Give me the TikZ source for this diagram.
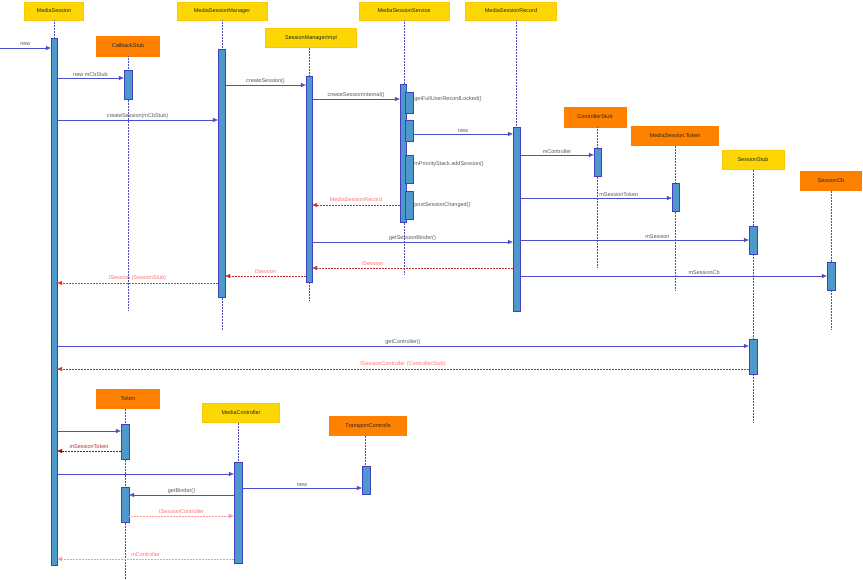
\documentclass[tikz,border=0pt]{standalone}
\usepackage{fontspec}
\setmainfont{Liberation Sans}
\usetikzlibrary{arrows.meta}
\begin{document}
\begin{tikzpicture}[x=1pt,y=-1pt,
  hdr/.style={fill=yellow!75!orange,draw=yellow!60!orange,inner sep=0pt,font=\fontsize{5.5}{6}\selectfont,text=black!85},
  hdro/.style={hdr,fill=orange!90!red!90!yellow,draw=orange},
  life/.style={draw=blue!40!gray,densely dotted,line width=0.5pt},
  act/.style={fill=blue!40!cyan!55!gray!90,draw=blue!50!gray,line width=0.4pt},
  msg/.style={draw=blue!55!gray!90,line width=0.5pt,-{Triangle[length=5pt,width=4pt]}},
  ret/.style={draw=red!70!black!80,densely dotted,line width=0.5pt,-{Triangle[length=5pt,width=4pt]}},
  lbl/.style={font=\fontsize{5.5}{6}\selectfont,text=black!65,inner sep=1pt},
  rlbl/.style={lbl,text=red!55!white}]
\useasboundingbox (0,0) rectangle (863,579);
% headers
\def\hd#1#2#3#4#5#6{\node[#6,minimum width=#3pt,minimum height=#4pt] (#1) at (#2,#5) {#1};}
\node[hdr,minimum width=59pt,minimum height=18pt] (h1) at (54,11) {MediaSession};
\node[hdro,minimum width=63pt,minimum height=20pt] (h2) at (128,46) {CallbackStub};
\node[hdr,minimum width=90pt,minimum height=18pt] (h3) at (222,11) {MediaSessionManager};
\node[hdr,minimum width=91pt,minimum height=19pt] (h4) at (311,38) {SessionManagerImpl};
\node[hdr,minimum width=90pt,minimum height=18pt] (h5) at (404,11) {MediaSessionService};
\node[hdr,minimum width=91pt,minimum height=18pt] (h6) at (511,11) {MediaSessionRecord};
\node[hdro,minimum width=62pt,minimum height=20pt] (h7) at (595,117) {ControllerStub};
\node[hdro,minimum width=87pt,minimum height=19pt] (h8) at (675,136) {MediaSession.Token};
\node[hdr,minimum width=62pt,minimum height=19pt] (h9) at (753,160) {SessionStub};
\node[hdro,minimum width=61pt,minimum height=19pt] (h10) at (831,181) {SessionCb};
\node[hdro,minimum width=63pt,minimum height=19pt] (h11) at (128,399) {Token};
\node[hdr,minimum width=77pt,minimum height=19pt] (h12) at (241,413) {MediaController};
\node[hdro,minimum width=77pt,minimum height=19pt] (h13) at (368,426) {TransportControlls};
% lifelines
\coordinate (e1) at (54,565); \coordinate (e2) at (128,310); \coordinate (e3) at (222,330);
\coordinate (e4) at (309,300); \coordinate (e5) at (404,275); \coordinate (e6) at (516,311);
\coordinate (e7) at (597,268); \coordinate (e8) at (675,290); \coordinate (e9) at (753,423);
\coordinate (e10) at (831,330); \coordinate (e11) at (125,579); \coordinate (e12) at (238,563);
\coordinate (e13) at (365,494);
\foreach \i/\x in {1/54,2/128,3/222,4/309,5/404,6/516,7/597,8/675,9/753,10/831,11/125,12/238,13/365}
  \draw[life] (h\i.south -| {\x,0}) -- (e\i);
% activations
\node[act,minimum width=6pt,minimum height=527pt,inner sep=0pt] (a1) at (54,301.5) {};
\node[act,minimum width=8pt,minimum height=29pt,inner sep=0pt] (a2) at (128,84.5) {};
\node[act,minimum width=7pt,minimum height=248pt,inner sep=0pt] (a3) at (221.5,173) {};
\node[act,minimum width=6pt,minimum height=206pt,inner sep=0pt] (a4) at (309,179) {};
\node[act,minimum width=6pt,minimum height=138pt,inner sep=0pt] (a5) at (403,153) {};
\foreach \n/\t/\b in {s1/92/113,s2/120/141,s3/155/183,s4/191/219}
  \node[act,minimum width=8pt,minimum height={(\b-\t)*1pt},inner sep=0pt] (\n) at (409,{(\t+\b)/2}) {};
\node[act,minimum width=7pt,minimum height=184pt,inner sep=0pt] (a6) at (516.5,219) {};
\node[act,minimum width=7pt,minimum height=28pt,inner sep=0pt] (a7) at (597.5,162) {};
\node[act,minimum width=7pt,minimum height=28pt,inner sep=0pt] (a8) at (675.5,197) {};
\node[act,minimum width=8pt,minimum height=28pt,inner sep=0pt] (a9) at (753,240) {};
\node[act,minimum width=8pt,minimum height=35pt,inner sep=0pt] (a9b) at (753,356.5) {};
\node[act,minimum width=8pt,minimum height=28pt,inner sep=0pt] (a10) at (831,276) {};
\node[act,minimum width=8pt,minimum height=35pt,inner sep=0pt] (a11) at (125,441.5) {};
\node[act,minimum width=8pt,minimum height=35pt,inner sep=0pt] (a11b) at (125,504.5) {};
\node[act,minimum width=8pt,minimum height=101pt,inner sep=0pt] (a12) at (238,512.5) {};
\node[act,minimum width=8pt,minimum height=28pt,inner sep=0pt] (a13) at (366,480) {};
\coordinate (start) at (0,48);
% messages
\draw[msg] (start) -- (start -| a1.west) node[lbl,midway,above=1pt] {new};
\draw[msg] (a1.east |- 0,78) -- (a2.west |- 0,78) node[lbl,midway,above] {new mCbStub};
\draw[msg] (a1.east |- 0,120) -- (a3.west |- 0,120) node[lbl,midway,above] {createSession(mCbStub)};
\draw[msg] (a3.east |- 0,85) -- (a4.west |- 0,85) node[lbl,midway,above] {createSession()};
\draw[msg] (a4.east |- 0,99) -- (a5.west |- 0,99) node[lbl,midway,above] {createSessionInternal()};
\node[lbl,anchor=west] (t1) at (s1.east |- 0,99) {getFullUserRecordLocked()};
\draw[msg] (s2.east |- 0,134) -- (a6.west |- 0,134) node[lbl,midway,above] {new};
\node[lbl,anchor=west] (t2) at (s3.east |- 0,164) {mPriorityStack.addSession()};
\draw[ret] (a5.west |- 0,205) -- (a4.east |- 0,205) node[rlbl,midway,above=2pt] {MediaSessionRecord};
\node[lbl,anchor=west] (t3) at (s4.east |- 0,205) {postSessionChanged()};
\draw[msg] (a4.east |- 0,242) -- (a6.west |- 0,242) node[lbl,midway,above] {getSessionBinder()};
\draw[msg] (a6.east |- 0,155) -- (a7.west |- 0,155) node[lbl,midway,above] {mController};
\draw[msg] (a6.east |- 0,198) -- (a8.west |- 0,198) node[lbl,pos=0.65,above] {mSessionToken};
\draw[msg] (a6.east |- 0,240) -- (a9.west |- 0,240) node[lbl,pos=0.6,above] {mSession};
\draw[ret] (a6.west |- 0,268) -- (a4.east |- 0,268) node[rlbl,pos=0.7,above=1pt] {ISession};
\draw[ret] (a4.west |- 0,276) -- (a3.east |- 0,276) node[rlbl,midway,above=1pt] {ISession};
\draw[ret,draw=red!60!orange] (a3.west |- 0,283) -- (a1.east |- 0,283) node[rlbl,midway,above=1pt] {ISession (SessionStub)};
\draw[msg] (a6.east |- 0,276) -- (a10.west |- 0,276) node[lbl,pos=0.6,above] {mSessionCb};
\draw[msg] (a1.east |- 0,346) -- (a9b.west |- 0,346) node[lbl,midway,above] {getController()};
\draw[ret] (a9b.west |- 0,369) -- (a1.east |- 0,369) node[rlbl,midway,above=1pt] {ISessionController (ControllerStub)};
\draw[msg] (a1.east |- 0,431) -- (a11.west |- 0,431);
\draw[ret,draw=red!70!black] (a11.west |- 0,451) -- (a1.east |- 0,451) node[rlbl,midway,above=1pt,text=red!60!black!80] {mSessionToken};
\draw[msg] (a1.east |- 0,474) -- (a12.west |- 0,474);
\draw[msg] (a12.east |- 0,488) -- (a13.west |- 0,488) node[lbl,midway,above] {new};
\draw[msg] (a12.west |- 0,495) -- (a11b.east |- 0,495) node[lbl,midway,above] {getBinder()};
\draw[ret,draw=red!40!white] (a11b.east |- 0,516) -- (a12.west |- 0,516) node[rlbl,midway,above=1pt] {ISessionController};
\draw[ret,draw=red!40!white] (a12.west |- 0,559) -- (a1.east |- 0,559) node[rlbl,midway,above=1pt] {mController};
\end{tikzpicture}
\end{document}
